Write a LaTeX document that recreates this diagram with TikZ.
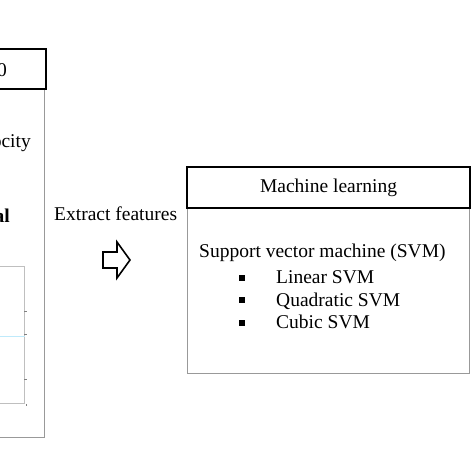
\documentclass[tikz,border=0pt]{standalone}
\usepackage{fontspec}
\setmainfont{Liberation Serif}
\usetikzlibrary{positioning}
\tikzset{
  headbox/.style={draw, line width=1.6pt, inner sep=0pt},
  bodybox/.style={draw=gray!80, line width=0.8pt, inner sep=0pt},
  sqbullet/.style={fill, minimum size=5.5pt, inner sep=0pt},
}

\begin{document}
\begin{tikzpicture}[x=1pt, y=-1pt, inner sep=0pt, font=\fontsize{19.5}{23}\selectfont]
    \useasboundingbox (0,0) rectangle (474,474);
    \clip (0,0) rectangle (474,474);

    % Left panel (cut off at the edge)
    \node[bodybox, minimum width=56pt, minimum height=348pt, anchor=north] (srcbody) at (16,89) {};
    \node[headbox, minimum width=56pt, minimum height=40pt] (src) at (18,69) {};
    \node[anchor=base east] (srctitle) at (7,76) {0};
    \node[anchor=base east] (vel) at (31,147) {Velocity};
    \node[anchor=base east, font=\fontsize{19.5}{23}\selectfont\bfseries] (sig) at (10,222) {Signal};

    % small plot
    \node[draw=gray!50, line width=0.6pt, minimum width=40pt, minimum height=137pt, anchor=north east] (plot) at (25,266) {};
    \draw[cyan!25, line width=0.6pt] (plot.west |- 0,336) -- (plot.east |- 0,336);
    \foreach \ty in {311,334,379}
        \draw[gray] (24,\ty) -- (27,\ty);
    \draw[gray] (26,404) -- (26,406);

    % Extract features
    \node[anchor=base west] (feat) at (54,220) {Extract features};
    \draw[line width=1.6pt, miter limit=4] (103,252) -- (117,252) -- (117,242) -- (130,260)
        -- (117,278) -- (117,268) -- (103,268) -- cycle;

    % Machine learning box
    \node[bodybox, minimum width=282pt, minimum height=165pt, anchor=north] (mlbody) at (328,208) {};
    \node[headbox, minimum width=283pt, minimum height=41pt] (ml) at (328.5,187.5) {Machine learning};

    \node[anchor=base west] (svm) at (199,257) {Support vector machine (SVM)};
    \node[sqbullet] (b1) at (242,278) {};
    \node[sqbullet] (b2) at (242,300) {};
    \node[sqbullet] (b3) at (242,323) {};
    \node[anchor=base west] (lin) at (276,283) {Linear SVM};
    \node[anchor=base west] (quad) at (276,306) {Quadratic SVM};
    \node[anchor=base west] (cub) at (276,328) {Cubic SVM};
\end{tikzpicture}
\end{document}
